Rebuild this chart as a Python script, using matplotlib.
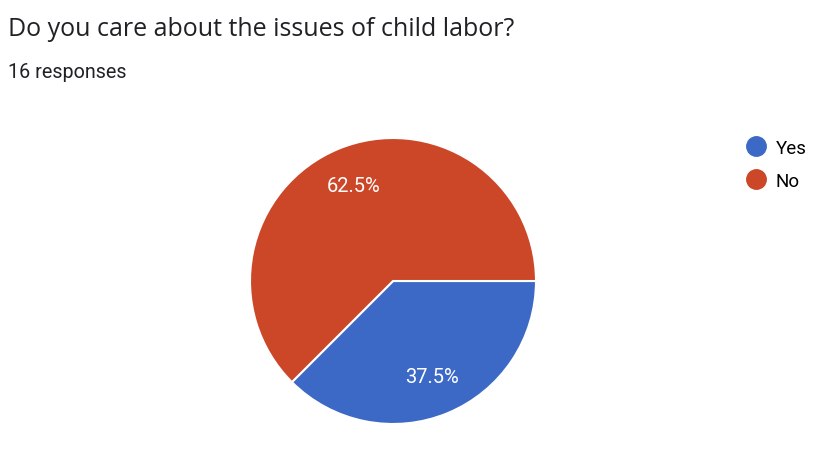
import matplotlib.pyplot as plt
from matplotlib.lines import Line2D

plt.rcParams['font.family'] = ['Roboto', 'DejaVu Sans']

labels = ['Yes', 'No']
counts = [6, 10]
colors = ['#3d69c6', '#cc4628']
title = "Do you care about the issues of child labor?"
subtitle = "16 responses"

W, H = 816, 464
fig = plt.figure(figsize=(W / 100, H / 100), dpi=100)

# pie centre (393, 282) px, radius 143 px
cx, cy, r = 393, 282, 143
ax = fig.add_axes([(cx - r) / W, (H - cy - r) / H, 2 * r / W, 2 * r / H])
ax.pie(counts, colors=colors, startangle=0, counterclock=False,
       autopct='%1.1f%%', pctdistance=0.72,
       wedgeprops=dict(edgecolor='white', linewidth=1.5),
       textprops=dict(color='white', fontsize=14.5))
ax.set_xlim(-1, 1)
ax.set_ylim(-1, 1)
ax.set_aspect('equal')
ax.axis('off')

fig.text(8 / W, 1 - 30 / H, title, fontsize=18, color='#202124', va='center',
         family=['Open Sans', 'DejaVu Sans'])
fig.text(8 / W, 1 - 72 / H, subtitle, fontsize=14.2, color='#202124', va='center')

handles = [Line2D([], [], marker='o', linestyle='none', markersize=14,
                  markerfacecolor=c, markeredgecolor=c) for c in colors]
fig.legend(handles, labels, loc='upper left', bbox_to_anchor=(745 / W, 1 - 140 / H),
           frameon=False, fontsize=13.5, handletextpad=0.45, labelspacing=0.78,
           borderaxespad=0, borderpad=0, handlelength=1.2)

fig.savefig('out.png', dpi=100)
